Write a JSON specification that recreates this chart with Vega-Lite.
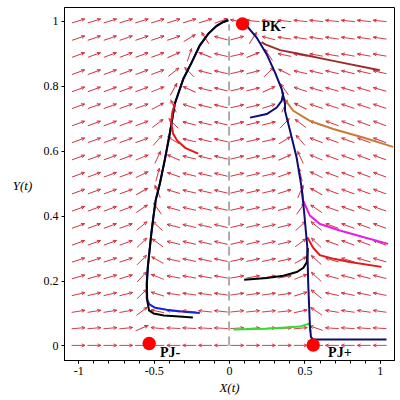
{
  "$schema": "https://vega.github.io/schema/vega-lite/v6.json",
  "width": 330,
  "height": 353,
  "autosize": "none",
  "padding": {"left": 64, "top": 7, "right": 6, "bottom": 40},
  "background": "white",
  "config": {
    "view": {"stroke": "black", "strokeWidth": 1},
    "axis": {
      "grid": false,
      "domainColor": "black",
      "tickColor": "black",
      "tickSize": 3,
      "labelFont": "Liberation Serif",
      "labelFontSize": 12,
      "labelColor": "black",
      "titleFont": "Liberation Serif",
      "titleFontSize": 13,
      "titleFontStyle": "italic",
      "titleFontWeight": "normal",
      "titleColor": "black"
    }
  },
  "resolve": {"axis": {"x": "independent"}},
  "datasets": {
    "field": [
      {"x":-1,"y":0,"a":0},{"x":-0.895,"y":0,"a":0},{"x":-0.789,"y":0,"a":0},{"x":-0.684,"y":0,"a":0},{"x":-0.579,"y":0,"a":0},{"x":-0.474,"y":0,"a":180},{"x":-0.368,"y":0,"a":180},{"x":-0.263,"y":0,"a":180},{"x":-0.158,"y":0,"a":180},{"x":-0.053,"y":0,"a":180},{"x":0.053,"y":0,"a":0},{"x":0.158,"y":0,"a":0},{"x":0.263,"y":0,"a":0},{"x":0.368,"y":0,"a":0},{"x":0.474,"y":0,"a":0},{"x":0.579,"y":0,"a":180},{"x":0.684,"y":0,"a":180},{"x":0.789,"y":0,"a":180},{"x":0.895,"y":0,"a":180},{"x":1,"y":0,"a":180},
      {"x":-1,"y":0.053,"a":355},{"x":-0.895,"y":0.053,"a":355},{"x":-0.789,"y":0.053,"a":355},{"x":-0.684,"y":0.053,"a":354},{"x":-0.579,"y":0.053,"a":336},{"x":-0.474,"y":0.053,"a":186},{"x":-0.368,"y":0.053,"a":183},{"x":-0.263,"y":0.053,"a":183},{"x":-0.158,"y":0.053,"a":183},{"x":-0.053,"y":0.053,"a":183},{"x":0.053,"y":0.053,"a":357},{"x":0.158,"y":0.053,"a":357},{"x":0.263,"y":0.053,"a":357},{"x":0.368,"y":0.053,"a":357},{"x":0.474,"y":0.053,"a":354},{"x":0.579,"y":0.053,"a":199},{"x":0.684,"y":0.053,"a":184},{"x":0.789,"y":0.053,"a":184},{"x":0.895,"y":0.053,"a":184},{"x":1,"y":0.053,"a":184},
      {"x":-1,"y":0.105,"a":351},{"x":-0.895,"y":0.105,"a":351},{"x":-0.789,"y":0.105,"a":351},{"x":-0.684,"y":0.105,"a":350},{"x":-0.579,"y":0.105,"a":323},{"x":-0.474,"y":0.105,"a":192},{"x":-0.368,"y":0.105,"a":186},{"x":-0.263,"y":0.105,"a":186},{"x":-0.158,"y":0.105,"a":186},{"x":-0.053,"y":0.105,"a":186},{"x":0.053,"y":0.105,"a":354},{"x":0.158,"y":0.105,"a":354},{"x":0.263,"y":0.105,"a":354},{"x":0.368,"y":0.105,"a":354},{"x":0.474,"y":0.105,"a":348},{"x":0.579,"y":0.105,"a":214},{"x":0.684,"y":0.105,"a":189},{"x":0.789,"y":0.105,"a":188},{"x":0.895,"y":0.105,"a":188},{"x":1,"y":0.105,"a":188},
      {"x":-1,"y":0.158,"a":347},{"x":-0.895,"y":0.158,"a":347},{"x":-0.789,"y":0.158,"a":347},{"x":-0.684,"y":0.158,"a":346},{"x":-0.579,"y":0.158,"a":316},{"x":-0.474,"y":0.158,"a":197},{"x":-0.368,"y":0.158,"a":188},{"x":-0.263,"y":0.158,"a":188},{"x":-0.158,"y":0.158,"a":188},{"x":-0.053,"y":0.158,"a":188},{"x":0.053,"y":0.158,"a":352},{"x":0.158,"y":0.158,"a":352},{"x":0.263,"y":0.158,"a":352},{"x":0.368,"y":0.158,"a":352},{"x":0.474,"y":0.158,"a":343},{"x":0.579,"y":0.158,"a":219},{"x":0.684,"y":0.158,"a":192},{"x":0.789,"y":0.158,"a":191},{"x":0.895,"y":0.158,"a":191},{"x":1,"y":0.158,"a":191},
      {"x":-1,"y":0.211,"a":344},{"x":-0.895,"y":0.211,"a":344},{"x":-0.789,"y":0.211,"a":344},{"x":-0.684,"y":0.211,"a":343},{"x":-0.579,"y":0.211,"a":313},{"x":-0.474,"y":0.211,"a":202},{"x":-0.368,"y":0.211,"a":190},{"x":-0.263,"y":0.211,"a":190},{"x":-0.158,"y":0.211,"a":190},{"x":-0.053,"y":0.211,"a":190},{"x":0.053,"y":0.211,"a":350},{"x":0.158,"y":0.211,"a":350},{"x":0.263,"y":0.211,"a":350},{"x":0.368,"y":0.211,"a":350},{"x":0.474,"y":0.211,"a":338},{"x":0.579,"y":0.211,"a":223},{"x":0.684,"y":0.211,"a":195},{"x":0.789,"y":0.211,"a":194},{"x":0.895,"y":0.211,"a":194},{"x":1,"y":0.211,"a":194},
      {"x":-1,"y":0.263,"a":342},{"x":-0.895,"y":0.263,"a":342},{"x":-0.789,"y":0.263,"a":342},{"x":-0.684,"y":0.263,"a":342},{"x":-0.579,"y":0.263,"a":315},{"x":-0.474,"y":0.263,"a":209},{"x":-0.368,"y":0.263,"a":192},{"x":-0.263,"y":0.263,"a":192},{"x":-0.158,"y":0.263,"a":192},{"x":-0.053,"y":0.263,"a":192},{"x":0.053,"y":0.263,"a":348},{"x":0.158,"y":0.263,"a":348},{"x":0.263,"y":0.263,"a":348},{"x":0.368,"y":0.263,"a":348},{"x":0.474,"y":0.263,"a":331},{"x":0.579,"y":0.263,"a":222},{"x":0.684,"y":0.263,"a":196},{"x":0.789,"y":0.263,"a":196},{"x":0.895,"y":0.263,"a":196},{"x":1,"y":0.263,"a":196},
      {"x":-1,"y":0.316,"a":340},{"x":-0.895,"y":0.316,"a":340},{"x":-0.789,"y":0.316,"a":340},{"x":-0.684,"y":0.316,"a":340},{"x":-0.579,"y":0.316,"a":316},{"x":-0.474,"y":0.316,"a":216},{"x":-0.368,"y":0.316,"a":193},{"x":-0.263,"y":0.316,"a":193},{"x":-0.158,"y":0.316,"a":193},{"x":-0.053,"y":0.316,"a":193},{"x":0.053,"y":0.316,"a":347},{"x":0.158,"y":0.316,"a":347},{"x":0.263,"y":0.316,"a":347},{"x":0.368,"y":0.316,"a":347},{"x":0.474,"y":0.316,"a":324},{"x":0.579,"y":0.316,"a":224},{"x":0.684,"y":0.316,"a":200},{"x":0.789,"y":0.316,"a":200},{"x":0.895,"y":0.316,"a":200},{"x":1,"y":0.316,"a":200},
      {"x":-1,"y":0.368,"a":340},{"x":-0.895,"y":0.368,"a":340},{"x":-0.789,"y":0.368,"a":340},{"x":-0.684,"y":0.368,"a":340},{"x":-0.579,"y":0.368,"a":321},{"x":-0.474,"y":0.368,"a":223},{"x":-0.368,"y":0.368,"a":194},{"x":-0.263,"y":0.368,"a":193},{"x":-0.158,"y":0.368,"a":193},{"x":-0.053,"y":0.368,"a":193},{"x":0.053,"y":0.368,"a":347},{"x":0.158,"y":0.368,"a":347},{"x":0.263,"y":0.368,"a":347},{"x":0.368,"y":0.368,"a":346},{"x":0.474,"y":0.368,"a":317},{"x":0.579,"y":0.368,"a":219},{"x":0.684,"y":0.368,"a":200},{"x":0.789,"y":0.368,"a":200},{"x":0.895,"y":0.368,"a":200},{"x":1,"y":0.368,"a":200},
      {"x":-1,"y":0.421,"a":340},{"x":-0.895,"y":0.421,"a":340},{"x":-0.789,"y":0.421,"a":340},{"x":-0.684,"y":0.421,"a":340},{"x":-0.579,"y":0.421,"a":326},{"x":-0.474,"y":0.421,"a":235},{"x":-0.368,"y":0.421,"a":195},{"x":-0.263,"y":0.421,"a":193},{"x":-0.158,"y":0.421,"a":193},{"x":-0.053,"y":0.421,"a":193},{"x":0.053,"y":0.421,"a":347},{"x":0.158,"y":0.421,"a":347},{"x":0.263,"y":0.421,"a":347},{"x":0.368,"y":0.421,"a":345},{"x":0.474,"y":0.421,"a":305},{"x":0.579,"y":0.421,"a":214},{"x":0.684,"y":0.421,"a":200},{"x":0.789,"y":0.421,"a":200},{"x":0.895,"y":0.421,"a":200},{"x":1,"y":0.421,"a":200},
      {"x":-1,"y":0.474,"a":340},{"x":-0.895,"y":0.474,"a":340},{"x":-0.789,"y":0.474,"a":340},{"x":-0.684,"y":0.474,"a":340},{"x":-0.579,"y":0.474,"a":330},{"x":-0.474,"y":0.474,"a":246},{"x":-0.368,"y":0.474,"a":197},{"x":-0.263,"y":0.474,"a":193},{"x":-0.158,"y":0.474,"a":193},{"x":-0.053,"y":0.474,"a":193},{"x":0.053,"y":0.474,"a":347},{"x":0.158,"y":0.474,"a":347},{"x":0.263,"y":0.474,"a":347},{"x":0.368,"y":0.474,"a":343},{"x":0.474,"y":0.474,"a":294},{"x":0.579,"y":0.474,"a":210},{"x":0.684,"y":0.474,"a":200},{"x":0.789,"y":0.474,"a":200},{"x":0.895,"y":0.474,"a":200},{"x":1,"y":0.474,"a":200},
      {"x":-1,"y":0.526,"a":340},{"x":-0.895,"y":0.526,"a":340},{"x":-0.789,"y":0.526,"a":340},{"x":-0.684,"y":0.526,"a":340},{"x":-0.579,"y":0.526,"a":334},{"x":-0.474,"y":0.526,"a":285},{"x":-0.368,"y":0.526,"a":199},{"x":-0.263,"y":0.526,"a":193},{"x":-0.158,"y":0.526,"a":193},{"x":-0.053,"y":0.526,"a":193},{"x":0.053,"y":0.526,"a":347},{"x":0.158,"y":0.526,"a":347},{"x":0.263,"y":0.526,"a":347},{"x":0.368,"y":0.526,"a":341},{"x":0.474,"y":0.526,"a":255},{"x":0.579,"y":0.526,"a":206},{"x":0.684,"y":0.526,"a":200},{"x":0.789,"y":0.526,"a":200},{"x":0.895,"y":0.526,"a":200},{"x":1,"y":0.526,"a":200},
      {"x":-1,"y":0.579,"a":340},{"x":-0.895,"y":0.579,"a":340},{"x":-0.789,"y":0.579,"a":340},{"x":-0.684,"y":0.579,"a":340},{"x":-0.579,"y":0.579,"a":337},{"x":-0.474,"y":0.579,"a":295},{"x":-0.368,"y":0.579,"a":204},{"x":-0.263,"y":0.579,"a":193},{"x":-0.158,"y":0.579,"a":193},{"x":-0.053,"y":0.579,"a":193},{"x":0.053,"y":0.579,"a":347},{"x":0.158,"y":0.579,"a":347},{"x":0.263,"y":0.579,"a":347},{"x":0.368,"y":0.579,"a":336},{"x":0.474,"y":0.579,"a":245},{"x":0.579,"y":0.579,"a":203},{"x":0.684,"y":0.579,"a":200},{"x":0.789,"y":0.579,"a":200},{"x":0.895,"y":0.579,"a":200},{"x":1,"y":0.579,"a":200},
      {"x":-1,"y":0.632,"a":340},{"x":-0.895,"y":0.632,"a":340},{"x":-0.789,"y":0.632,"a":340},{"x":-0.684,"y":0.632,"a":340},{"x":-0.579,"y":0.632,"a":340},{"x":-0.474,"y":0.632,"a":311},{"x":-0.368,"y":0.632,"a":211},{"x":-0.263,"y":0.632,"a":193},{"x":-0.158,"y":0.632,"a":193},{"x":-0.053,"y":0.632,"a":193},{"x":0.053,"y":0.632,"a":347},{"x":0.158,"y":0.632,"a":347},{"x":0.263,"y":0.632,"a":347},{"x":0.368,"y":0.632,"a":329},{"x":0.474,"y":0.632,"a":229},{"x":0.579,"y":0.632,"a":200},{"x":0.684,"y":0.632,"a":200},{"x":0.789,"y":0.632,"a":200},{"x":0.895,"y":0.632,"a":200},{"x":1,"y":0.632,"a":200},
      {"x":-1,"y":0.684,"a":340},{"x":-0.895,"y":0.684,"a":340},{"x":-0.789,"y":0.684,"a":340},{"x":-0.684,"y":0.684,"a":340},{"x":-0.579,"y":0.684,"a":340},{"x":-0.474,"y":0.684,"a":323},{"x":-0.368,"y":0.684,"a":226},{"x":-0.263,"y":0.684,"a":194},{"x":-0.158,"y":0.684,"a":193},{"x":-0.053,"y":0.684,"a":193},{"x":0.053,"y":0.684,"a":347},{"x":0.158,"y":0.684,"a":347},{"x":0.263,"y":0.684,"a":346},{"x":0.368,"y":0.684,"a":314},{"x":0.474,"y":0.684,"a":217},{"x":0.579,"y":0.684,"a":200},{"x":0.684,"y":0.684,"a":200},{"x":0.789,"y":0.684,"a":200},{"x":0.895,"y":0.684,"a":200},{"x":1,"y":0.684,"a":200},
      {"x":-1,"y":0.737,"a":340},{"x":-0.895,"y":0.737,"a":340},{"x":-0.789,"y":0.737,"a":340},{"x":-0.684,"y":0.737,"a":340},{"x":-0.579,"y":0.737,"a":340},{"x":-0.474,"y":0.737,"a":332},{"x":-0.368,"y":0.737,"a":246},{"x":-0.263,"y":0.737,"a":198},{"x":-0.158,"y":0.737,"a":193},{"x":-0.053,"y":0.737,"a":193},{"x":0.053,"y":0.737,"a":347},{"x":0.158,"y":0.737,"a":347},{"x":0.263,"y":0.737,"a":342},{"x":0.368,"y":0.737,"a":294},{"x":0.474,"y":0.737,"a":206},{"x":0.579,"y":0.737,"a":198},{"x":0.684,"y":0.737,"a":198},{"x":0.789,"y":0.737,"a":198},{"x":0.895,"y":0.737,"a":198},{"x":1,"y":0.737,"a":198},
      {"x":-1,"y":0.789,"a":340},{"x":-0.895,"y":0.789,"a":340},{"x":-0.789,"y":0.789,"a":340},{"x":-0.684,"y":0.789,"a":340},{"x":-0.579,"y":0.789,"a":340},{"x":-0.474,"y":0.789,"a":338},{"x":-0.368,"y":0.789,"a":299},{"x":-0.263,"y":0.789,"a":205},{"x":-0.158,"y":0.789,"a":193},{"x":-0.053,"y":0.789,"a":193},{"x":0.053,"y":0.789,"a":347},{"x":0.158,"y":0.789,"a":347},{"x":0.263,"y":0.789,"a":335},{"x":0.368,"y":0.789,"a":235},{"x":0.474,"y":0.789,"a":198},{"x":0.579,"y":0.789,"a":196},{"x":0.684,"y":0.789,"a":196},{"x":0.789,"y":0.789,"a":196},{"x":0.895,"y":0.789,"a":196},{"x":1,"y":0.789,"a":196},
      {"x":-1,"y":0.842,"a":340},{"x":-0.895,"y":0.842,"a":340},{"x":-0.789,"y":0.842,"a":340},{"x":-0.684,"y":0.842,"a":340},{"x":-0.579,"y":0.842,"a":340},{"x":-0.474,"y":0.842,"a":340},{"x":-0.368,"y":0.842,"a":322},{"x":-0.263,"y":0.842,"a":225},{"x":-0.158,"y":0.842,"a":194},{"x":-0.053,"y":0.842,"a":193},{"x":0.053,"y":0.842,"a":347},{"x":0.158,"y":0.842,"a":346},{"x":0.263,"y":0.842,"a":315},{"x":0.368,"y":0.842,"a":206},{"x":0.474,"y":0.842,"a":193},{"x":0.579,"y":0.842,"a":193},{"x":0.684,"y":0.842,"a":193},{"x":0.789,"y":0.842,"a":193},{"x":0.895,"y":0.842,"a":193},{"x":1,"y":0.842,"a":193},
      {"x":-1,"y":0.895,"a":340},{"x":-0.895,"y":0.895,"a":340},{"x":-0.789,"y":0.895,"a":340},{"x":-0.684,"y":0.895,"a":340},{"x":-0.579,"y":0.895,"a":340},{"x":-0.474,"y":0.895,"a":340},{"x":-0.368,"y":0.895,"a":336},{"x":-0.263,"y":0.895,"a":288},{"x":-0.158,"y":0.895,"a":202},{"x":-0.053,"y":0.895,"a":193},{"x":0.053,"y":0.895,"a":347},{"x":0.158,"y":0.895,"a":338},{"x":0.263,"y":0.895,"a":236},{"x":0.368,"y":0.895,"a":192},{"x":0.474,"y":0.895,"a":190},{"x":0.579,"y":0.895,"a":190},{"x":0.684,"y":0.895,"a":190},{"x":0.789,"y":0.895,"a":190},{"x":0.895,"y":0.895,"a":190},{"x":1,"y":0.895,"a":190},
      {"x":-1,"y":0.947,"a":341},{"x":-0.895,"y":0.947,"a":341},{"x":-0.789,"y":0.947,"a":341},{"x":-0.684,"y":0.947,"a":341},{"x":-0.579,"y":0.947,"a":341},{"x":-0.474,"y":0.947,"a":341},{"x":-0.368,"y":0.947,"a":341},{"x":-0.263,"y":0.947,"a":329},{"x":-0.158,"y":0.947,"a":238},{"x":-0.053,"y":0.947,"a":195},{"x":0.053,"y":0.947,"a":345},{"x":0.158,"y":0.947,"a":302},{"x":0.263,"y":0.947,"a":194},{"x":0.368,"y":0.947,"a":188},{"x":0.474,"y":0.947,"a":188},{"x":0.579,"y":0.947,"a":188},{"x":0.684,"y":0.947,"a":188},{"x":0.789,"y":0.947,"a":188},{"x":0.895,"y":0.947,"a":188},{"x":1,"y":0.947,"a":188},
      {"x":-1,"y":1,"a":343},{"x":-0.895,"y":1,"a":343},{"x":-0.789,"y":1,"a":343},{"x":-0.684,"y":1,"a":343},{"x":-0.579,"y":1,"a":343},{"x":-0.474,"y":1,"a":343},{"x":-0.368,"y":1,"a":343},{"x":-0.263,"y":1,"a":343},{"x":-0.158,"y":1,"a":343},{"x":-0.053,"y":1,"a":340},{"x":0.053,"y":1,"a":190},{"x":0.158,"y":1,"a":186},{"x":0.263,"y":1,"a":186},{"x":0.368,"y":1,"a":186},{"x":0.474,"y":1,"a":186},{"x":0.579,"y":1,"a":186},{"x":0.684,"y":1,"a":186},{"x":0.789,"y":1,"a":186},{"x":0.895,"y":1,"a":186},{"x":1,"y":1,"a":186}
    ],
    "paths": [
      {"c":"b1","x":-0.194,"y":0.100},{"c":"b1","x":-0.300,"y":0.104},{"c":"b1","x":-0.414,"y":0.110},{"c":"b1","x":-0.490,"y":0.116},{"c":"b1","x":-0.530,"y":0.127},{"c":"b1","x":-0.546,"y":0.145},{"c":"b1","x":-0.547,"y":0.190},{"c":"b1","x":-0.539,"y":0.241},{"c":"b1","x":-0.516,"y":0.344},{"c":"b1","x":-0.502,"y":0.396},{"c":"b1","x":-0.487,"y":0.447},{"c":"b1","x":-0.459,"y":0.499},{"c":"b1","x":-0.425,"y":0.575},{"c":"b1","x":-0.393,"y":0.654},{"c":"b1","x":-0.360,"y":0.745},{"c":"b1","x":-0.303,"y":0.822},{"c":"b1","x":-0.247,"y":0.873},{"c":"b1","x":-0.194,"y":0.925},{"c":"b1","x":-0.137,"y":0.961},{"c":"b1","x":-0.082,"y":0.985},{"c":"b1","x":-0.038,"y":0.997},{"c":"b1","x":-0.005,"y":1.002},
      {"c":"k1","x":-0.240,"y":0.086},{"c":"k1","x":-0.330,"y":0.089},{"c":"k1","x":-0.433,"y":0.092},{"c":"k1","x":-0.500,"y":0.098},{"c":"k1","x":-0.531,"y":0.108},{"c":"k1","x":-0.543,"y":0.139},{"c":"k1","x":-0.545,"y":0.190},{"c":"k1","x":-0.539,"y":0.241},{"c":"k1","x":-0.516,"y":0.344},{"c":"k1","x":-0.502,"y":0.396},{"c":"k1","x":-0.487,"y":0.447},{"c":"k1","x":-0.459,"y":0.499},{"c":"k1","x":-0.425,"y":0.575},{"c":"k1","x":-0.393,"y":0.654},{"c":"k1","x":-0.360,"y":0.745},{"c":"k1","x":-0.303,"y":0.822},{"c":"k1","x":-0.247,"y":0.873},{"c":"k1","x":-0.194,"y":0.925},{"c":"k1","x":-0.137,"y":0.961},{"c":"k1","x":-0.082,"y":0.985},{"c":"k1","x":-0.038,"y":0.997},{"c":"k1","x":-0.005,"y":1.002},
      {"c":"r1","x":-0.205,"y":0.591},{"c":"r1","x":-0.291,"y":0.609},{"c":"r1","x":-0.344,"y":0.631},{"c":"r1","x":-0.371,"y":0.652},{"c":"r1","x":-0.384,"y":0.686},{"c":"r1","x":-0.377,"y":0.717},{"c":"r1","x":-0.360,"y":0.745},
      {"c":"br","x":0.215,"y":0.935},{"c":"br","x":0.240,"y":0.928},{"c":"br","x":0.338,"y":0.910},{"c":"br","x":0.470,"y":0.898},{"c":"br","x":0.691,"y":0.877},{"c":"br","x":1.000,"y":0.848},
      {"c":"or","x":0.350,"y":0.790},{"c":"or","x":0.360,"y":0.764},{"c":"or","x":0.426,"y":0.723},{"c":"or","x":0.536,"y":0.692},{"c":"or","x":0.691,"y":0.667},{"c":"or","x":0.889,"y":0.641},{"c":"or","x":1.088,"y":0.612},
      {"c":"mg","x":0.481,"y":0.487},{"c":"mg","x":0.492,"y":0.446},{"c":"mg","x":0.536,"y":0.400},{"c":"mg","x":0.603,"y":0.374},{"c":"mg","x":0.735,"y":0.354},{"c":"mg","x":0.912,"y":0.331},{"c":"mg","x":1.055,"y":0.313},
      {"c":"r2","x":0.520,"y":0.333},{"c":"r2","x":0.556,"y":0.302},{"c":"r2","x":0.602,"y":0.278},{"c":"r2","x":0.702,"y":0.266},{"c":"r2","x":0.801,"y":0.257},{"c":"r2","x":1.011,"y":0.242},
      {"c":"k2","x":0.100,"y":0.202},{"c":"k2","x":0.250,"y":0.208},{"c":"k2","x":0.360,"y":0.215},{"c":"k2","x":0.449,"y":0.226},{"c":"k2","x":0.493,"y":0.239},{"c":"k2","x":0.515,"y":0.256},{"c":"k2","x":0.523,"y":0.300},
      {"c":"g1","x":0.028,"y":0.049},{"c":"g1","x":0.250,"y":0.051},{"c":"g1","x":0.470,"y":0.058},{"c":"g1","x":0.532,"y":0.067},{"c":"g1","x":0.540,"y":0.040},
      {"c":"n2","x":0.139,"y":0.702},{"c":"n2","x":0.250,"y":0.713},{"c":"n2","x":0.316,"y":0.733},{"c":"n2","x":0.349,"y":0.754},{"c":"n2","x":0.360,"y":0.779},
      {"c":"n1","x":0.079,"y":0.994},{"c":"n1","x":0.117,"y":0.985},{"c":"n1","x":0.183,"y":0.949},{"c":"n1","x":0.250,"y":0.897},{"c":"n1","x":0.305,"y":0.841},{"c":"n1","x":0.349,"y":0.790},{"c":"n1","x":0.371,"y":0.745},{"c":"n1","x":0.371,"y":0.723},{"c":"n1","x":0.404,"y":0.662},{"c":"n1","x":0.448,"y":0.579},{"c":"n1","x":0.481,"y":0.487},{"c":"n1","x":0.497,"y":0.415},{"c":"n1","x":0.519,"y":0.302},{"c":"n1","x":0.525,"y":0.191},{"c":"n1","x":0.536,"y":0.062},{"c":"n1","x":0.543,"y":0.026},{"c":"n1","x":0.558,"y":0.018},{"c":"n1","x":1.044,"y":0.018}
    ],
    "pts": [
      {"x":0.089,"y":0.991,"t":"PK-","tx":0.215,"ty":0.981},
      {"x":-0.530,"y":0.006,"t":"PJ-","tx":-0.459,"ty":-0.022},
      {"x":0.558,"y":0.001,"t":"PJ+","tx":0.657,"ty":-0.022}
    ],
    "sep": [{"x":0,"y":0,"y2":0.99}]
  },
  "layer": [
    {
      "data": {"name": "field"},
      "mark": {"type": "point", "shape": "M-1,0L1,0M0.5,-0.22L1,0L0.5,0.22", "filled": false, "size": 180, "strokeWidth": 0.9, "color": "#d0303e", "opacity": 1},
      "encoding": {
        "x": {
          "field": "x", "type": "quantitative",
          "scale": {"domain": [-1.095, 1.094], "nice": false, "zero": false},
          "axis": {
            "orient": "bottom",
            "title": null,
            "values": [-1,-0.9,-0.8,-0.7,-0.6,-0.5,-0.4,-0.3,-0.2,-0.1,0,0.1,0.2,0.3,0.4,0.5,0.6,0.7,0.8,0.9,1],
            "labels": false
          }
        },
        "y": {
          "field": "y", "type": "quantitative",
          "scale": {"domain": [-0.045, 1.043], "nice": false, "zero": false},
          "axis": {
            "title": "Y(t)",
            "values": [0,0.1,0.2,0.3,0.4,0.5,0.6,0.7,0.8,0.9,1],
            "labelExpr": "round(datum.value*10) % 2 == 0 ? format(datum.value, '~g') : ''",
            "labelOverlap": false,
            "labelPadding": 3,
            "titleAngle": 0,
            "titleX": -42,
            "titleY": 178,
            "titleAlign": "center",
            "titleBaseline": "middle"
          }
        },
        "angle": {"field": "a", "type": "quantitative", "scale": null}
      }
    },
    {
      "data": {"name": "sep"},
      "mark": {"type": "rule", "color": "#aaaaaa", "strokeWidth": 2, "strokeDash": [9, 6]},
      "encoding": {
        "x": {
          "field": "x", "type": "quantitative",
          "axis": {
            "orient": "bottom",
            "title": "X(t)",
            "values": [-1, -0.5, 0, 0.5, 1],
            "format": "~g",
            "labelExpr": "replace(datum.label, '\u2212', '-')",
            "labelOverlap": false,
            "labelPadding": 2,
            "titlePadding": 5
          }
        },
        "y": {"field": "y", "type": "quantitative"},
        "y2": {"field": "y2"}
      }
    },
    {
      "data": {"name": "paths"},
      "mark": {"type": "line", "strokeWidth": 2, "clip": true},
      "encoding": {
        "x": {"field": "x", "type": "quantitative", "axis": null},
        "y": {"field": "y", "type": "quantitative"},
        "color": {
          "field": "c", "type": "nominal", "legend": null,
          "scale": {
            "domain": ["b1","k1","r1","br","or","mg","r2","k2","g1","n2","n1"],
            "range": ["#1f1fd6","#000000","#e4161a","#9c2b2b","#c97a38","#e31fe3","#e4161a","#000000","#2fe02f","#0d0d73","#0d0d73"]
          }
        },
        "order": {"value": null}
      }
    },
    {
      "data": {"name": "pts"},
      "mark": {"type": "point", "shape": "circle", "filled": true, "size": 180, "color": "#ff0000", "opacity": 1},
      "encoding": {
        "x": {"field": "x", "type": "quantitative", "axis": null},
        "y": {"field": "y", "type": "quantitative"}
      }
    },
    {
      "data": {"name": "pts"},
      "mark": {"type": "text", "font": "Liberation Serif", "fontSize": 14, "fontWeight": "bold", "align": "left", "baseline": "middle", "color": "black"},
      "encoding": {
        "x": {"field": "tx", "type": "quantitative", "axis": null},
        "y": {"field": "ty", "type": "quantitative"},
        "text": {"field": "t"}
      }
    }
  ]
}
